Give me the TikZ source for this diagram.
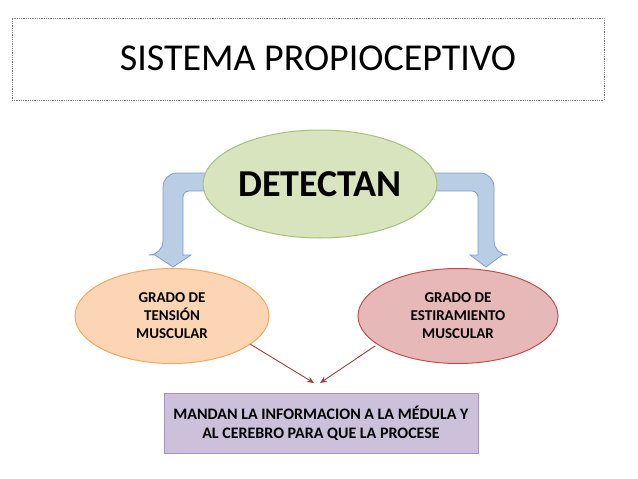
\documentclass[tikz,border=0pt]{standalone}
\usepackage{fontspec}
\setmainfont{Carlito}
\usetikzlibrary{shapes.geometric,arrows.meta}
\definecolor{grfill}{HTML}{D7E4BD}\definecolor{grline}{HTML}{A6C27A}
\definecolor{orfill}{HTML}{FCD5B5}\definecolor{orline}{HTML}{F5A65E}
\definecolor{rdfill}{HTML}{E6B9B8}\definecolor{rdline}{HTML}{C0504D}
\definecolor{pufill}{HTML}{CCC0DA}\definecolor{puline}{HTML}{8064A2}
\definecolor{blfill}{HTML}{B9CDE5}\definecolor{blline}{HTML}{7F9FC9}
\definecolor{arr}{HTML}{A0413E}
\tikzset{ell/.style={ellipse,line width=1pt,align=center,font=\bfseries\fontsize{15}{18}\selectfont,inner sep=0pt},
blk/.style={fill=blfill,draw=blline,line width=0.8pt,rounded corners=14pt},
redarrow/.style={draw=arr,line width=0.9pt,-{Stealth[length=7pt,width=6pt]}}}
\begin{document}
\begin{tikzpicture}[x=1pt,y=-1pt]
\useasboundingbox (0,0) rectangle (638,479);
\fill[white] (0,0) rectangle (638,479);
\node[draw=gray,densely dotted,line width=0.8pt,minimum width=592pt,minimum height=82pt] (title) at (308,59) {};
\node[font=\fontsize{38}{42}\selectfont] (tt) at (318,58) {SISTEMA PROPIOCEPTIVO};
\draw[blk] (215,173) -- (163,173) -- (163,255) [sharp corners]-- (155,255) -- (173,267) -- (191,255) -- (183,255) [rounded corners=6pt] -- (183,191) -- (215,191) -- cycle;
\draw[blk] (425,173) -- (494,173) -- (494,255) [sharp corners]-- (502,255) -- (486,267) -- (470,255) -- (478,255) [rounded corners=6pt] -- (478,191) -- (425,191) -- cycle;
\node[ell,fill=grfill,draw=grline,minimum width=234pt,minimum height=108pt,font=\bfseries\fontsize{38}{42}\selectfont] (det) at (320,184) {DETECTAN};
\node[ell,fill=orfill,draw=orline,minimum width=194pt,minimum height=95pt] (ten) at (172,316) {GRADO DE\\TENSIÓN\\MUSCULAR};
\node[ell,fill=rdfill,draw=rdline,minimum width=200pt,minimum height=95pt] (est) at (458,316) {GRADO DE\\ESTIRAMIENTO\\MUSCULAR};
\node[draw=puline!70,fill=pufill,line width=0.8pt,minimum width=314pt,minimum height=60pt,align=center,font=\bfseries\fontsize{16}{19}\selectfont] (box) at (321,423) {MANDAN LA INFORMACION A LA MÉDULA Y\\AL CEREBRO PARA QUE LA PROCESE};
\coordinate (t1) at (314,383);\coordinate (t2) at (320,383);
\draw[redarrow] (250,344) -- (t1);
\draw[redarrow] (375,346) -- (t2);
\end{tikzpicture}
\end{document}
